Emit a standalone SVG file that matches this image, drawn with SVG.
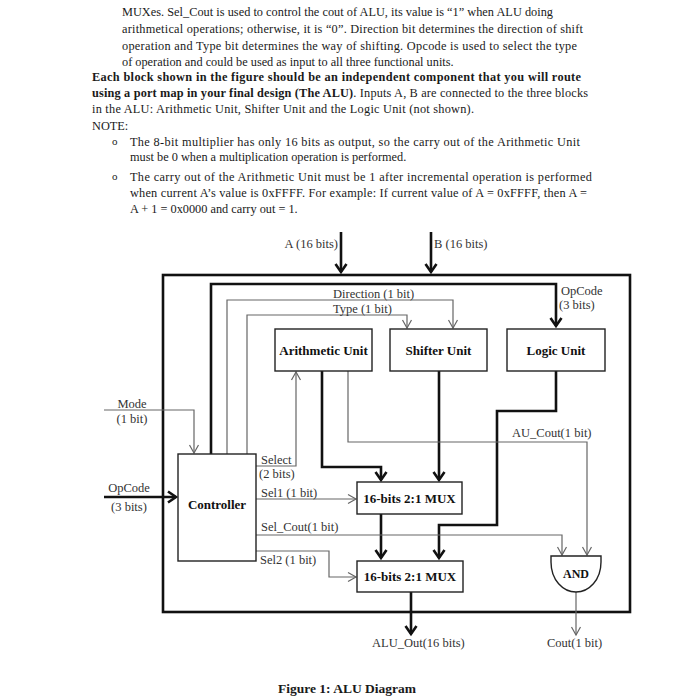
<svg xmlns="http://www.w3.org/2000/svg" width="694" height="700" viewBox="0 0 694 700">
<style>
.p{font-family:"Liberation Serif","Times New Roman",serif;font-size:12.3px;fill:#1a1a1a}
.pb{font-family:"Liberation Serif","Times New Roman",serif;font-size:12.3px;font-weight:bold;fill:#1a1a1a}
.fig{font-family:"Liberation Serif","Times New Roman",serif;font-size:13.5px;font-weight:bold;fill:#1a1a1a}
.lb{font-family:"Liberation Serif","Times New Roman",serif;font-size:12.5px;fill:#333}
.bt{font-family:"Liberation Serif","Times New Roman",serif;font-size:13px;font-weight:bold;fill:#111;text-anchor:middle}
.box{fill:#fff;stroke:#222;stroke-width:1.4}
.thick{fill:none;stroke:#111;stroke-width:2.6}
.thin{fill:none;stroke:#666;stroke-width:1.2}
</style>
<defs>
<marker id="ak" markerUnits="userSpaceOnUse" markerWidth="16" markerHeight="16" refX="0" refY="0" orient="auto" overflow="visible">
<path d="M-8,-5.5 L0,0 L-8,5.5" fill="none" stroke="#111" stroke-width="2.6"/>
</marker>
<marker id="at" markerUnits="userSpaceOnUse" markerWidth="16" markerHeight="16" refX="0" refY="0" orient="auto" overflow="visible">
<path d="M-8,-4.5 L0,0 L-8,4.5" fill="none" stroke="#666" stroke-width="1.2"/>
</marker>
</defs>
<rect width="694" height="700" fill="#fff"/>
<g id="text">
<text class="p" x="122" y="16" textLength="431" lengthAdjust="spacing">MUXes. Sel_Cout is used to control the cout of ALU, its value is “1” when ALU doing</text>
<text class="p" x="122" y="33" textLength="461" lengthAdjust="spacing">arithmetical operations; otherwise, it is “0”. Direction bit determines the direction of shift</text>
<text class="p" x="122" y="50" textLength="455" lengthAdjust="spacing">operation and Type bit determines the way of shifting. Opcode is used to select the type</text>
<text class="p" x="122" y="66">of operation and could be used as input to all three functional units.</text>
<text class="p" x="92" y="81" textLength="489" lengthAdjust="spacing"><tspan class="pb">Each block shown in the figure should be an independent component that you will route</tspan></text>
<text class="p" x="92" y="97" textLength="496" lengthAdjust="spacing"><tspan class="pb">using a port map in your final design (The ALU)</tspan>. Inputs A, B are connected to the three blocks</text>
<text class="p" x="92" y="113" textLength="382" lengthAdjust="spacing">in the ALU: Arithmetic Unit, Shifter Unit and the Logic Unit (not shown).</text>
<text class="p" x="92" y="130">NOTE:</text>
<text class="p" x="112" y="145" style="font-size:11px">o</text>
<text class="p" x="130" y="146" textLength="450" lengthAdjust="spacing">The 8-bit multiplier has only 16 bits as output, so the carry out of the Arithmetic Unit</text>
<text class="p" x="130" y="161">must be 0 when a multiplication operation is performed.</text>
<text class="p" x="112" y="180" style="font-size:11px">o</text>
<text class="p" x="130" y="181" textLength="462" lengthAdjust="spacing">The carry out of the Arithmetic Unit must be 1 after incremental operation is performed</text>
<text class="p" x="130" y="197" textLength="457" lengthAdjust="spacing">when current A’s value is 0xFFFF. For example: If current value of A = 0xFFFF, then A =</text>
<text class="p" x="130" y="213">A + 1 = 0x0000 and carry out = 1.</text>
<text class="fig" x="278" y="693">Figure 1: ALU Diagram</text>
</g>
<g id="alu-boundary">
<rect x="163" y="275" width="467" height="337" fill="none" stroke="#111" stroke-width="2.6"/>
</g>
<g id="connectors">
<path class="thick" d="M341,232 V272" marker-end="url(#ak)"/>
<path class="thick" d="M431,232 V272" marker-end="url(#ak)"/>
<path class="thick" d="M211,454 V284 H556 V326" marker-end="url(#ak)"/>
<path class="thick" d="M322,371 V467 H381 V480" marker-end="url(#ak)"/>
<path class="thick" d="M439,371 V480" marker-end="url(#ak)"/>
<path class="thick" d="M556,371 V411 H497 V525 H439 V558" marker-end="url(#ak)"/>
<path class="thick" d="M381,514 V558" marker-end="url(#ak)"/>
<path class="thick" d="M411,592 V634" marker-end="url(#ak)"/>
<path class="thick" d="M104,497 H176" marker-end="url(#ak)"/>
<path class="thin" d="M227,454 V300 H453 V328" marker-end="url(#at)"/>
<path class="thin" d="M247,454 V315 H407 V328" marker-end="url(#at)"/>
<path class="thin" d="M104,410 H194 V453" marker-end="url(#at)"/>
<path class="thin" d="M256,466 H296 V372" marker-end="url(#at)"/>
<path class="thin" d="M348,371 V442 H587 V555" marker-end="url(#at)"/>
<path class="thin" d="M256,499 H356" marker-end="url(#at)"/>
<path class="thin" d="M256,535 H562 V555" marker-end="url(#at)"/>
<path class="thin" d="M256,551 H329 V577 H356" marker-end="url(#at)"/>
<path class="thin" d="M576,592 V635" marker-end="url(#at)"/>
<text class="lb" x="338" y="248" text-anchor="end">A (16 bits)</text>
<text class="lb" x="434" y="248">B (16 bits)</text>
<text class="lb" x="333" y="298">Direction (1 bit)</text>
<text class="lb" x="333" y="313">Type (1 bit)</text>
<text class="lb" x="561" y="295">OpCode</text>
<text class="lb" x="559" y="309">(3 bits)</text>
<text class="lb" x="132" y="408" text-anchor="middle">Mode</text>
<text class="lb" x="132" y="423" text-anchor="middle">(1 bit)</text>
<text class="lb" x="129" y="492" text-anchor="middle">OpCode</text>
<text class="lb" x="129" y="511" text-anchor="middle">(3 bits)</text>
<text class="lb" x="261" y="464">Select</text>
<text class="lb" x="259" y="478">(2 bits)</text>
<text class="lb" x="261" y="497">Sel1 (1 bit)</text>
<text class="lb" x="261" y="531">Sel_Cout(1 bit)</text>
<text class="lb" x="260" y="564">Sel2 (1 bit)</text>
<text class="lb" x="512" y="437">AU_Cout(1 bit)</text>
<text class="lb" x="372" y="647">ALU_Out(16 bits)</text>
<text class="lb" x="547" y="647">Cout(1 bit)</text>
</g>
<g id="arithmetic-unit">
<rect class="box" x="275" y="329" width="97" height="42"/>
<text class="bt" x="323.5" y="355">Arithmetic Unit</text>
</g>
<g id="shifter-unit">
<rect class="box" x="390" y="329" width="97" height="42"/>
<text class="bt" x="438.5" y="355">Shifter Unit</text>
</g>
<g id="logic-unit">
<rect class="box" x="507" y="329" width="98" height="42"/>
<text class="bt" x="556" y="355">Logic Unit</text>
</g>
<g id="controller">
<rect class="box" x="178" y="454" width="78" height="107"/>
<text class="bt" x="217" y="509">Controller</text>
</g>
<g id="mux1">
<rect class="box" x="357" y="482" width="105" height="32"/>
<text class="bt" x="409.5" y="503">16-bits 2:1 MUX</text>
</g>
<g id="mux2">
<rect class="box" x="357" y="561" width="106" height="31"/>
<text class="bt" x="410" y="581">16-bits 2:1 MUX</text>
</g>
<g id="and-gate">
<path class="box" d="M551,556 H601 V562 C601,580 589,592 576,592 C563,592 551,580 551,562 Z"/>
<text class="bt" x="576" y="578" style="font-size:12px">AND</text>
</g>
</svg>
